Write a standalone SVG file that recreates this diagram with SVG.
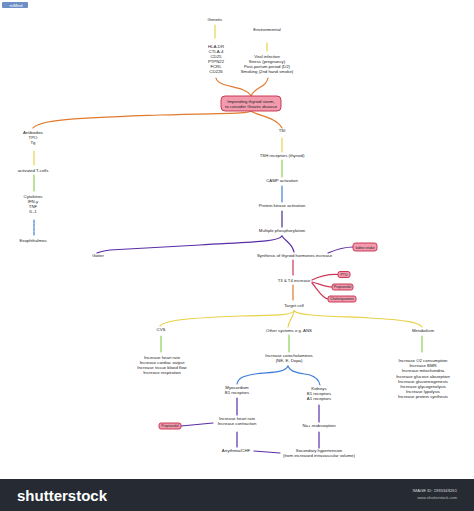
<svg xmlns="http://www.w3.org/2000/svg" width="474" height="511" viewBox="0 0 474 511">
<style>
text{font-family:"Liberation Sans",Arial,sans-serif;font-size:4.3px;fill:#222;text-anchor:middle}
.c{fill:none;stroke-width:1.2;stroke-linecap:round}
.or{stroke:#e07a2e}.ye{stroke:#e8d24a}.gr{stroke:#8cd05a}.bl{stroke:#3f7fd8}.pu{stroke:#5a2ea6}.dp{stroke:#4a2a8c}.rd{stroke:#cf3556}
.pill rect{fill:#f29aae;stroke:#c42a48;stroke-width:0.9}
</style>
<rect width="474" height="511" fill="#fff"/>
<g id="logo"><rect x="2" y="2" width="26" height="6" rx="1" fill="#6c8fc8"/><text x="16" y="6.6" style="fill:#fff;font-size:4px">miMind</text></g>

<g id="connectors">
<path class="c ye" d="M215,25V38"/>
<path class="c ye" d="M267,43V51"/>
<path class="c or" d="M216,78C218,88 245,85 251,96"/>
<path class="c or" d="M268,78C266,88 256,86 251,96"/>
<path class="c or" d="M251,111C246,114 230,113 160,115C80,118 40,119 33,128"/>
<path class="c or" d="M251,111C258,116 276,117 282,128"/>
<path class="c ye" d="M34,151V165"/>
<path class="c gr" d="M34,175V191"/>
<path class="c bl" d="M34,220V235" stroke-dasharray="3,1"/>
<path class="c ye" d="M282,138V152"/>
<path class="c gr" d="M282,160V177"/>
<path class="c bl" d="M282,186V202"/>
<path class="c dp" d="M282,211V227"/>
<path class="c pu" d="M282,236C278,242 250,242 200,245L110,250C103,251 99,252 97,253"/>
<path class="c pu" d="M282,236C286,242 292,243 294,252"/>
<path class="c pu" d="M328,253C335,250 342,247 353,247"/>
<path class="c rd" d="M293,260V275"/>
<path class="c rd" d="M312,280C320,276 328,274 338,274.5"/>
<path class="c rd" d="M312,282C320,284 326,287 332,287"/>
<path class="c rd" d="M312,283C318,290 322,298 328,299"/>
<path class="c or" d="M293,285V300"/>
<path class="c ye" d="M294,311C290,316 270,315 240,316C190,318 165,320 160,326"/>
<path class="c ye" d="M294,311C293,318 289,320 288,327"/>
<path class="c ye" d="M294,311C300,316 330,316 370,318C405,320 418,322 422,327"/>
<path class="c gr" d="M161,336V352"/>
<path class="c gr" d="M289,335V352"/>
<path class="c gr" d="M422,336V352"/>
<path class="c bl" d="M288,366C285,373 270,372 255,374C243,376 238,378 237,384"/>
<path class="c bl" d="M288,366C291,373 300,373 310,375C316,377 319,380 320,385"/>
<path class="c pu" d="M237,398V415"/>
<path class="c pu" d="M237,432V447"/>
<path class="c pu" d="M181,426L213,423"/>
<path class="c pu" d="M319,405V422"/>
<path class="c pu" d="M319,432V448"/>
<path class="c pu" d="M254,451L280,453"/>
</g>

<g id="genetic"><text x="215" y="21">Genetic</text></g>
<g id="genes"><text x="216" y="48">HLA-DR</text><text x="216" y="53">CTLA-4</text><text x="216" y="58">CD25</text><text x="216" y="63">PTPN22</text><text x="216" y="68">FCRL</text><text x="216" y="73">CD226</text></g>
<g id="environmental"><text x="267" y="31">Environmental</text></g>
<g id="env-factors"><text x="267" y="58">Viral infection</text><text x="267" y="63">Stress (pregnancy)</text><text x="267" y="68">Post-partum period (D2)</text><text x="267" y="73">Smoking (2nd hand smoke)</text></g>
<g id="storm" class="pill"><rect x="221" y="96" width="60" height="15" rx="4"/><text x="251" y="102.5">Impending thyroid storm,</text><text x="251" y="108">to consider Graves disease</text></g>

<g id="antibodies"><text x="33" y="134">Antibodies</text><text x="33" y="139">TPO</text><text x="33" y="144">Tg</text></g>
<g id="tcells"><text x="33" y="172">activated T-cells</text></g>
<g id="cytokines"><text x="33" y="198">Cytokines</text><text x="33" y="203">IFN-y</text><text x="33" y="208">TNF</text><text x="33" y="213">IL-1</text></g>
<g id="exophthalmos"><text x="33" y="242">Exophthalmos</text></g>

<g id="tsi"><text x="282" y="132">TSI</text></g>
<g id="tshr"><text x="282" y="157">TSH receptors (thyroid)</text></g>
<g id="camp"><text x="282" y="182">CAMP activation</text></g>
<g id="pka"><text x="282" y="207">Protein kinase activation</text></g>
<g id="phos"><text x="282" y="232">Multiple phosphorylation</text></g>
<g id="goiter"><text x="98" y="257">Goiter</text></g>
<g id="synthesis"><text x="294.5" y="257">Synthesis of thyroid hormones increase</text></g>
<g id="iodine" class="pill"><rect x="353" y="243" width="24" height="8" rx="2.5"/><text x="365" y="248.5" style="font-size:3.4px">Iodine intake</text></g>
<g id="t3t4"><text x="294" y="282">T3 &amp; T4 increase</text></g>
<g id="ptu" class="pill"><rect x="338" y="271.5" width="12" height="6" rx="2"/><text x="344" y="275.8" style="font-size:3.4px">PTU</text></g>
<g id="propranolol1" class="pill"><rect x="332" y="284" width="21" height="6" rx="2"/><text x="342.5" y="288.3" style="font-size:3.4px">Propranolol</text></g>
<g id="cholestyramine" class="pill"><rect x="328" y="296" width="28" height="6" rx="2"/><text x="342" y="300.3" style="font-size:3.4px">Cholestyramine</text></g>
<g id="target"><text x="294" y="307">Target cell</text></g>

<g id="cvs"><text x="161" y="331">CVS</text></g>
<g id="cvs-effects"><text x="162" y="359">Increase heart rate</text><text x="162" y="364">Increase cardiac output</text><text x="162" y="369">Increase tissue blood flow</text><text x="162" y="374">Increase respiration</text></g>
<g id="other"><text x="289" y="332">Other systems e.g. ANS</text></g>
<g id="catechol"><text x="289" y="357">Increase catecholamines</text><text x="289" y="362">(NE, E, Dopa)</text></g>
<g id="metabolism"><text x="423" y="332">Metabolism</text></g>
<g id="metab-effects"><text x="423" y="362">Increase O2 consumption</text><text x="423" y="367.2">Increase BMR</text><text x="423" y="372.4">Increase mitochondria</text><text x="423" y="377.6">Increase glucose absorption</text><text x="423" y="382.8">Increase gluconeogenesis</text><text x="423" y="388">Increase glycogenolysis</text><text x="423" y="393.2">Increase lypolysis</text><text x="423" y="398.4">Increase protein synthesis</text></g>
<g id="myocardium"><text x="237" y="389">Myocardium</text><text x="237" y="394">B1 receptors</text></g>
<g id="kidneys"><text x="319" y="390">Kidneys</text><text x="319" y="395">B1 receptors</text><text x="319" y="400">A1 receptors</text></g>
<g id="hr"><text x="237" y="420">Increase heart rate</text><text x="237" y="425">Increase contraction</text></g>
<g id="propranolol2" class="pill"><rect x="159" y="423" width="22" height="6" rx="2"/><text x="170" y="427.3" style="font-size:3.4px">Propranolol</text></g>
<g id="na"><text x="319" y="427">Na+ reabsorption</text></g>
<g id="chf"><text x="236" y="452">Arrythmia/CHF</text></g>
<g id="htn"><text x="319" y="452">Secondary hypertension</text><text x="319" y="457">(from increased intravascular volume)</text></g>

<g id="footer"><rect x="0" y="479" width="474" height="32" fill="#252a33"/>
<text x="17" y="501" style="font-size:15px;font-weight:bold;fill:#fff;text-anchor:start">shutterstock</text>
<text x="457" y="492" style="font-size:4.2px;fill:#ddd;text-anchor:end">IMAGE ID: 1935349261</text>
<text x="457" y="499" style="font-size:4px;fill:#bbb;text-anchor:end">www.shutterstock.com</text></g>
</svg>
